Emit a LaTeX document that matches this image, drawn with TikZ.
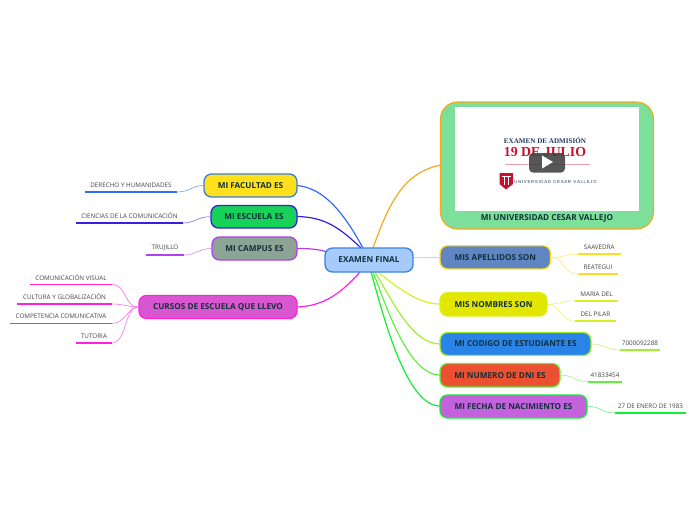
\documentclass[tikz,border=0pt]{standalone}
\usepackage{fontspec}
\setmainfont{Open Sans}
\newfontfamily\serifb{Liberation Serif}
\newfontfamily\sansb{Liberation Sans}
\usetikzlibrary{calc}
\definecolor{ink}{HTML}{12303A}
\definecolor{leafink}{HTML}{444444}
\definecolor{cOrange}{HTML}{F9A81B}
\definecolor{cYellow}{HTML}{FFDD22}
\definecolor{cLime}{HTML}{D8F020}
\definecolor{cLeaf}{HTML}{A0F030}
\definecolor{cGreenA}{HTML}{60F040}
\definecolor{cGreenB}{HTML}{10F030}
\definecolor{cBlue}{HTML}{2F6BFF}
\definecolor{cIndigo}{HTML}{3A1FE0}
\definecolor{cPurple}{HTML}{B040F0}
\definecolor{cPink}{HTML}{FF20E0}
\definecolor{navy}{HTML}{1F3864}
\definecolor{crimson}{HTML}{C8102E}
\definecolor{bRoot}{HTML}{3B82E8}
\definecolor{bFac}{HTML}{3A7FD5}
\definecolor{fRoot}{HTML}{A6CBFB}
\definecolor{fFac}{HTML}{FFE01B}
\definecolor{fEsc}{HTML}{17D158}
\definecolor{fCam}{HTML}{8DA394}
\definecolor{fCur}{HTML}{D857D0}
\definecolor{fApe}{HTML}{5F86C2}
\definecolor{fNom}{HTML}{E2E600}
\definecolor{fCod}{HTML}{2A84E8}
\definecolor{fNum}{HTML}{EC5030}
\definecolor{fFec}{HTML}{C462DE}
\definecolor{fUni}{HTML}{7CE09A}
\definecolor{line}{HTML}{E8A0AC}
\definecolor{play}{HTML}{3F3F3F}
\tikzset{
 x=1pt,y=-1pt,
 topic/.style={draw=#1,line width=1.3pt,rounded corners=7.5pt,inner sep=0pt,font=\bfseries\fontsize{8.2}{9}\selectfont,text=ink},
 leaf/.style={inner sep=0pt,font=\fontsize{6.3}{7}\selectfont,text=leafink},
 lead/.style={draw=#1,line width=1.6pt},
 main/.style={draw=#1,line width=1.2pt},
 twig/.style={draw=#1!65!white,line width=.6pt},
}
\newcommand{\topicnode}[8]{% name, x1,y1,x2,y2, fill, border, text
 \node[topic=#7,fill=#6,minimum width=#4pt-#2pt,minimum height=#5pt-#3pt] (#1) at ({(#2+#4)/2},{(#3+#5)/2}) {#8};}
\newcommand{\leafnode}[6]{% name, x1, x2, y, colour, text
 \coordinate (#1a) at (#2,#4); \coordinate (#1b) at (#3,#4);
 \draw[lead=#5] (#1a) -- (#1b);
 \node[leaf] (#1) at ($(#1a)!.5!(#1b)+(0,-7)$) {#6};}
\begin{document}
\begin{tikzpicture}
\useasboundingbox (0,0) rectangle (696,520);
% connectors from the central topic
\coordinate (rUni) at (373,248);
\coordinate (rFac) at (363,248);
\coordinate (rEsc) at (361,248);
\coordinate (rCam) at (327,252);
\coordinate (rCur) at (360,272);
\coordinate (rNom) at (378,272);
\coordinate (rCod) at (375,272);
\coordinate (rNum) at (373,272);
\coordinate (rFec) at (371,272);
\coordinate (uniW) at (441,165);
\draw[main=cOrange] (rUni) .. controls (390,200) and (405,172) .. (uniW);
\draw[main=cBlue] (rFac) .. controls (345,215) and (325,188) .. (297,185.5);
\draw[main=cIndigo] (rEsc) .. controls (340,228) and (325,217) .. (297,216.5);
\draw[main=cPurple] (rCam) .. controls (318,249) and (308,248.5) .. (297,248.5);
\draw[main=cPink] (rCur) .. controls (342,292) and (325,306) .. (297,307);
\draw[main=cLime] (rNom) .. controls (400,290) and (420,304) .. (440,304);
\draw[main=cLeaf] (rCod) .. controls (392,300) and (412,344) .. (440,344);
\draw[main=cGreenA] (rNum) .. controls (386,305) and (408,375) .. (440,375);
\draw[main=cGreenB] (rFec) .. controls (382,310) and (405,406) .. (440,406);
% topics
\topicnode{root}{325}{248}{413}{272}{fRoot}{bRoot}{EXAMEN FINAL}
\topicnode{fac}{204}{174}{297}{197}{fFac}{bFac}{MI FACULTAD ES}
\topicnode{esc}{211}{205.5}{297}{228}{fEsc}{cIndigo}{MI ESCUELA ES}
\topicnode{cam}{212}{237}{297}{260}{fCam}{cPurple}{MI CAMPUS ES}
\topicnode{cur}{139}{295.5}{297}{318.5}{fCur}{cPink}{CURSOS DE ESCUELA QUE LLEVO}
\topicnode{ape}{440}{245.7}{550.5}{269}{fApe}{cYellow}{MIS APELLIDOS SON}
\topicnode{nom}{440}{292.7}{547}{316}{fNom}{cLime}{MIS NOMBRES SON}
\topicnode{cod}{440}{332.5}{591}{355.5}{fCod}{cLeaf}{MI CODIGO DE ESTUDIANTE ES}
\topicnode{num}{440}{363.5}{560}{387}{fNum}{cGreenA}{MI NUMERO DE DNI ES}
\topicnode{fec}{440}{395}{587}{418}{fFec}{cGreenB}{MI FECHA DE NACIMIENTO ES}
\draw[main=cYellow,line width=1.5pt] (root.east |- ape.west) -- (ape.west);
% university topic with its picture
\node[topic=cOrange,fill=fUni,rounded corners=17pt,line width=1.1pt,minimum width=213pt,minimum height=127pt] (uni) at (547,165.5) {};
\node[fill=white,inner sep=0pt,minimum width=184pt,minimum height=104pt] (photo) at (547,159) {};
\node[inner sep=0pt,font=\bfseries\fontsize{8.2}{9}\selectfont,text=ink] (unilabel) at (547,218) {MI UNIVERSIDAD CESAR VALLEJO};
\node[inner sep=0pt,text=navy,font=\serifb\bfseries\fontsize{7.1}{9}\selectfont] (exam) at (545,140) {EXAMEN DE ADMISIÓN};
\node[inner sep=0pt,text=crimson,font=\serifb\bfseries\fontsize{13.8}{16}\selectfont] (date) at (545,151.5) {19 DE JULIO};
\draw[draw=line,line width=.5pt] (505,164.5) -- (590,164.5);
\fill[crimson] (499.5,173) -- (513,173) -- (513,184) -- (506,189.5) -- (499.5,184) -- cycle;
\draw[white,line width=.6pt] (502,176) -- (511,176) (504.5,176) -- (504.5,185) (508,176) -- (508,185);
\node[inner sep=0pt,text=navy,font=\sansb\fontsize{4.3}{6}\selectfont] (ucv) at (555.5,181.5) {U\,N\,I\,V\,E\,R\,S\,I\,D\,A\,D\ \ C\,É\,S\,A\,R\ \ V\,A\,L\,L\,E\,J\,O};
\fill[fill=play,fill opacity=.88,rounded corners=4pt] (529,153) rectangle (565,172.5);
\fill[white] (542,155.5) -- (553,162) -- (542,168.5) -- cycle;
% leaves, left
\leafnode{lDer}{85}{177}{192}{cBlue}{DERECHO Y HUMANIDADES}
\leafnode{lCie}{76}{183}{223}{cIndigo}{CIENCIAS DE LA COMUNICACIÓN}
\leafnode{lTru}{146}{184}{255}{cPurple}{TRUJILLO}
\leafnode{lCom}{30}{112}{284.5}{cPink}{COMUNICACIÓN VISUAL}
\leafnode{lCul}{17}{112}{304}{cPink}{CULTURA Y GLOBALIZACIÓN}
\leafnode{lCmp}{10}{112}{323.5}{cPink}{COMPETENCIA COMUNICATIVA}
\leafnode{lTut}{76}{112}{343}{cPink}{TUTORIA}
\draw[twig=cBlue] (fac.west) .. controls (192,185.5) and (190,192) .. (lDerb);
\draw[twig=cIndigo] (esc.west) .. controls (198,216.5) and (195,223) .. (lCieb);
\draw[twig=cPurple] (cam.west) .. controls (199,248.5) and (196,255) .. (lTrub);
\draw[twig=cPink] (cur.west) .. controls (124,307) and (127,284.5) .. (lComb);
\draw[twig=cPink] (cur.west) .. controls (128,307) and (124,304) .. (lCulb);
\draw[twig=cPink] (cur.west) .. controls (128,307) and (125,323.5) .. (lCmpb);
\draw[twig=cPink] (cur.west) .. controls (124,307) and (127,343) .. (lTutb);
% leaves, right
\leafnode{lSaa}{578}{620.5}{254}{cYellow}{SAAVEDRA}
\leafnode{lRea}{578}{618}{274}{cYellow}{REATEGUI}
\leafnode{lMar}{575}{618}{301}{cLime}{MARIA DEL}
\leafnode{lDel}{575}{616}{321}{cLime}{DEL PILAR}
\leafnode{lSie}{620}{660}{350}{cLeaf}{7000092288}
\leafnode{lCua}{588}{622}{381.8}{cGreenA}{41833454}
\leafnode{lVei}{615}{686}{413}{cGreenB}{27 DE ENERO DE 1983}
\draw[twig=cYellow] (ape.east) .. controls (565,257.5) and (565,254) .. (lSaaa);
\draw[twig=cYellow] (ape.east) .. controls (565,257.5) and (562,274) .. (lReaa);
\draw[twig=cLime] (nom.east) .. controls (560,304) and (562,301) .. (lMara);
\draw[twig=cLime] (nom.east) .. controls (560,304) and (560,321) .. (lDela);
\draw[twig=cLeaf] (cod.east) .. controls (605,344) and (606,350) .. (lSiea);
\draw[twig=cGreenA] (num.east) .. controls (574,375) and (574,381.5) .. (lCuaa);
\draw[twig=cGreenB] (fec.east) .. controls (601,406) and (601,413) .. (lVeia);
\end{tikzpicture}
\end{document}
